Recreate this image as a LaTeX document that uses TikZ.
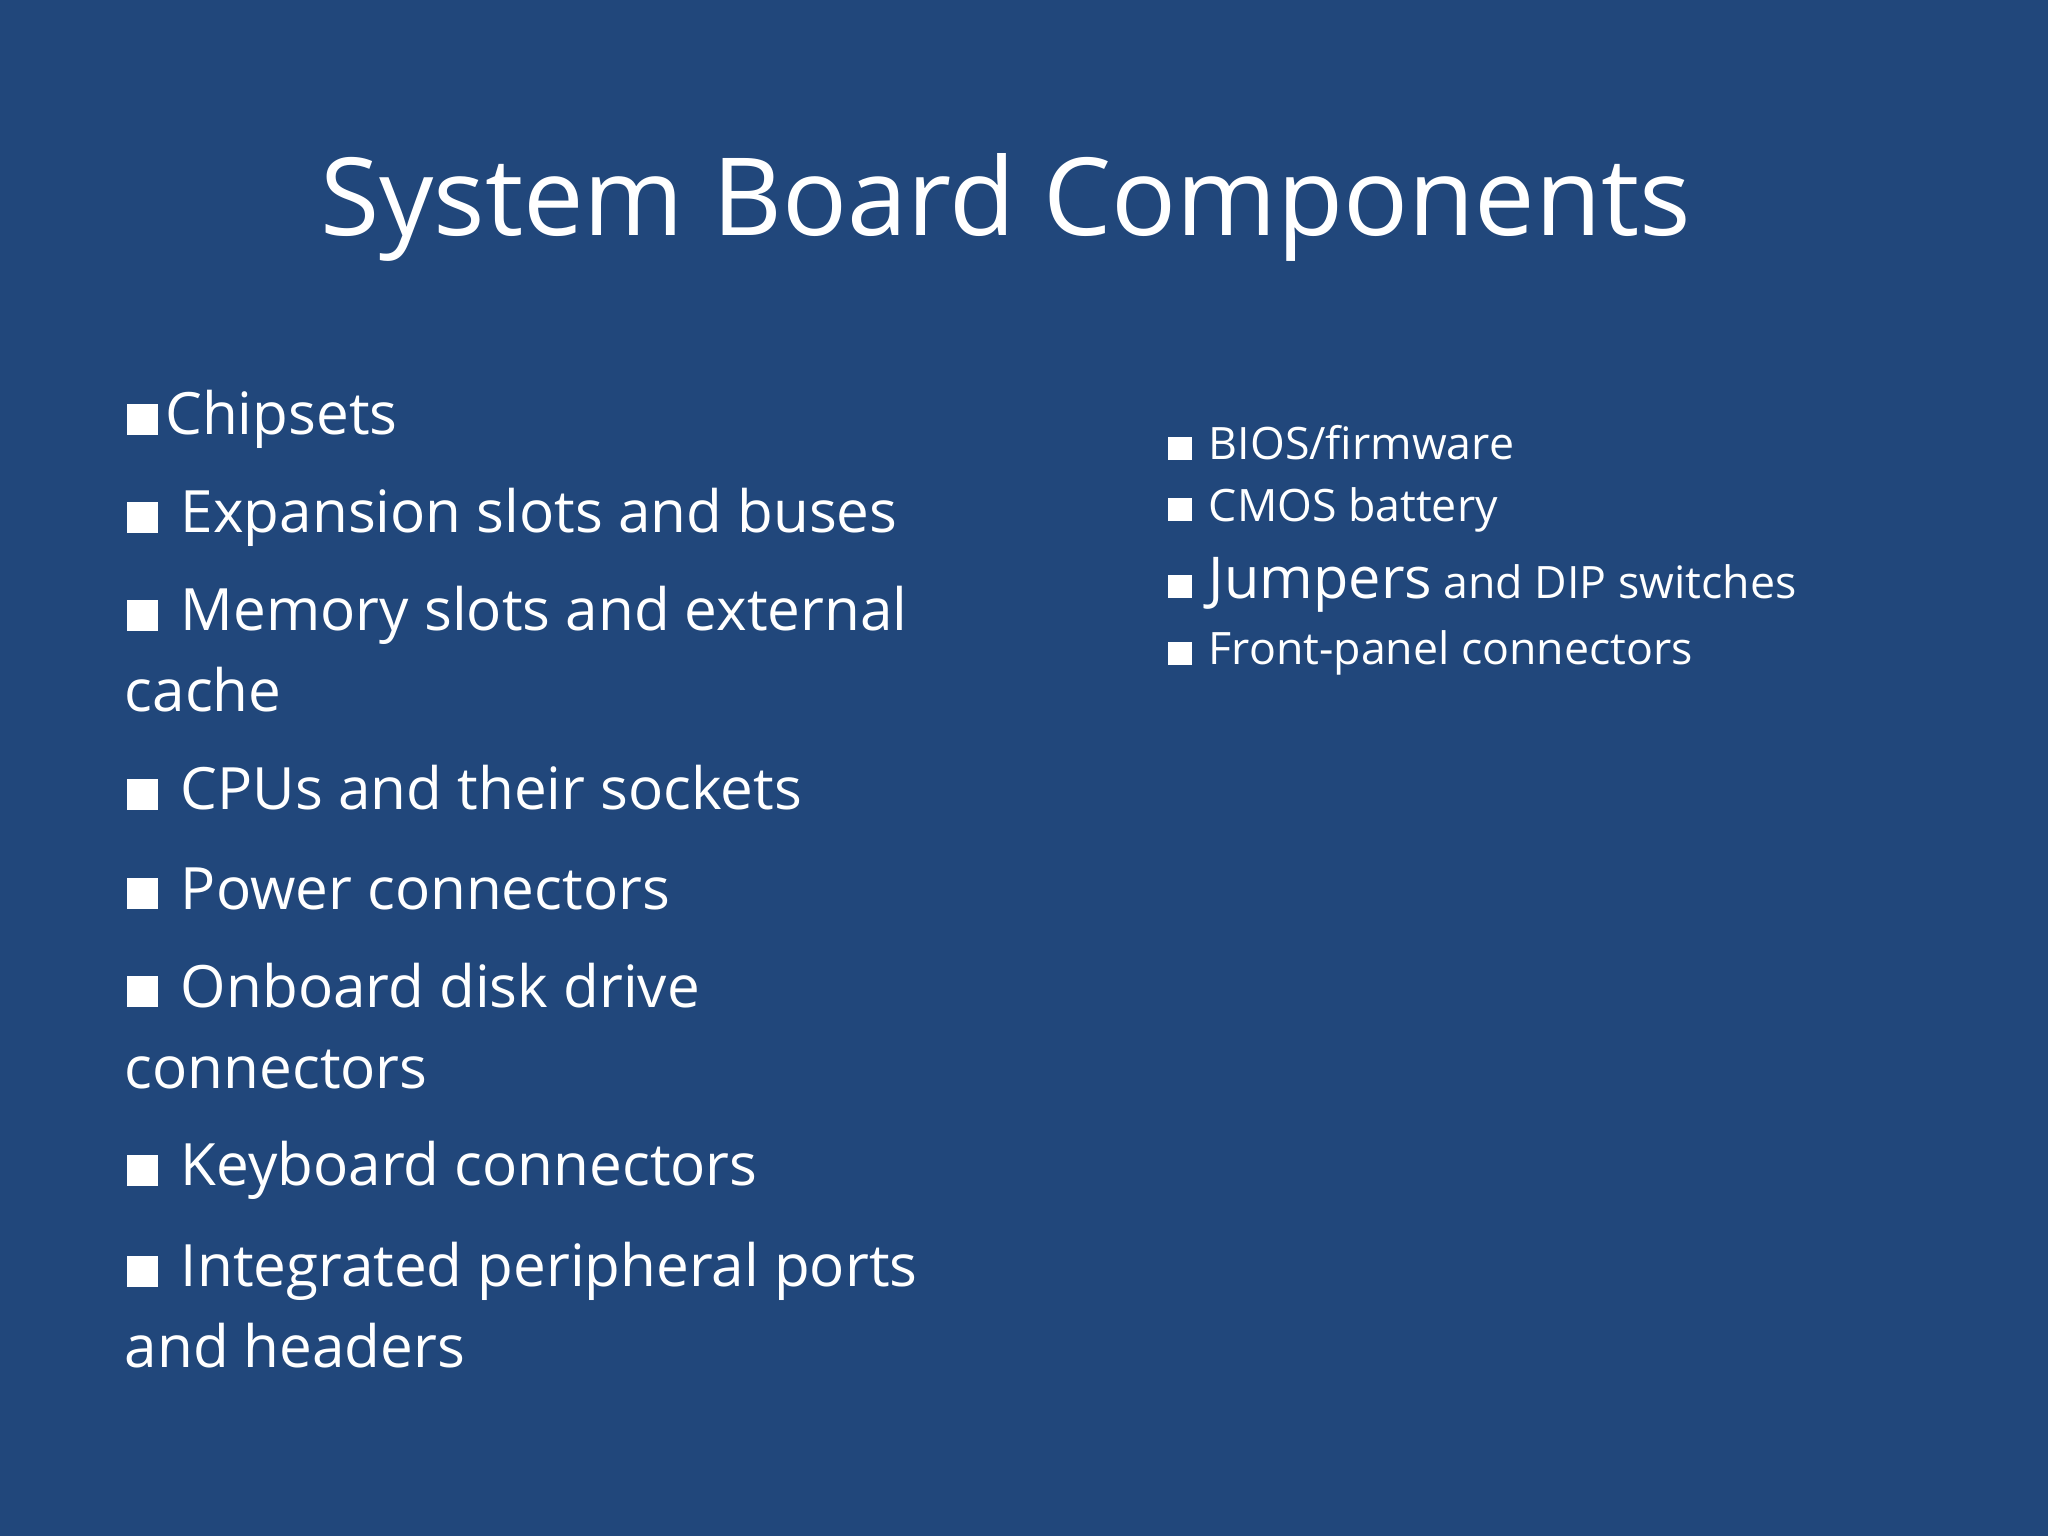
\documentclass[tikz,border=0pt]{standalone}
\usepackage{fontspec}
\setmainfont{Open Sans}
\definecolor{bg}{RGB}{33,71,123}
\begin{document}
\begin{tikzpicture}[x=0.3715pt,y=-0.3715pt,
  item/.style={anchor=base west,inner sep=0pt,text=white,font=\fontsize{16.6}{20}\selectfont},
  ritem/.style={anchor=base west,inner sep=0pt,text=white,font=\fontsize{12.7}{15}\selectfont},
  lb/.style={anchor=base west,inner sep=0pt,text=white},
]
\fill[bg] (0,0) rectangle (1568,1176);
\useasboundingbox (0,0) rectangle (1568,1176);
\node[anchor=base,inner sep=0pt,text=white,font=\fontsize{30.7}{36}\selectfont] (title) at (770,180) {System Board Components};
% left bullets
\foreach \n/\y in {b1/333,b2/408,b3/483,b4/620,b5/696,b6/771,b7/908,b8/985}
  \node[lb] (\n) at (97,\y) {\rule{8.8pt}{8.8pt}};
\node[item] (t1) at (126,333) {Chipsets};
\node[item] (t2) at (138,408) {Expansion slots and buses};
\node[item] (t3) at (138,483) {Memory slots and external};
\node[item] (t3b) at (95,545) {cache};
\node[item] (t4) at (138,620) {CPUs and their sockets};
\node[item] (t5) at (138,696) {Power connectors};
\node[item] (t6) at (138,771) {Onboard disk drive};
\node[item] (t6b) at (95,833) {connectors};
\node[item] (t7) at (138,908) {Keyboard connectors};
\node[item] (t8) at (138,985) {Integrated peripheral ports};
\node[item] (t8b) at (95,1047) {and headers};
% right bullets
\foreach \n/\y in {r1/352,r2/399,r3/458,r4/509}
  \node[lb] (\n) at (894,\y) {\rule{6.6pt}{6.6pt}};
\node[ritem] (s1) at (925,352) {BIOS/firmware};
\node[ritem] (s2) at (925,399) {CMOS battery};
\node[ritem] (s3) at (925,458) {{\fontsize{16.4}{19}\selectfont Jumpers} and DIP switches};
\node[ritem] (s4) at (925,509) {Front-panel connectors};
\end{tikzpicture}
\end{document}
